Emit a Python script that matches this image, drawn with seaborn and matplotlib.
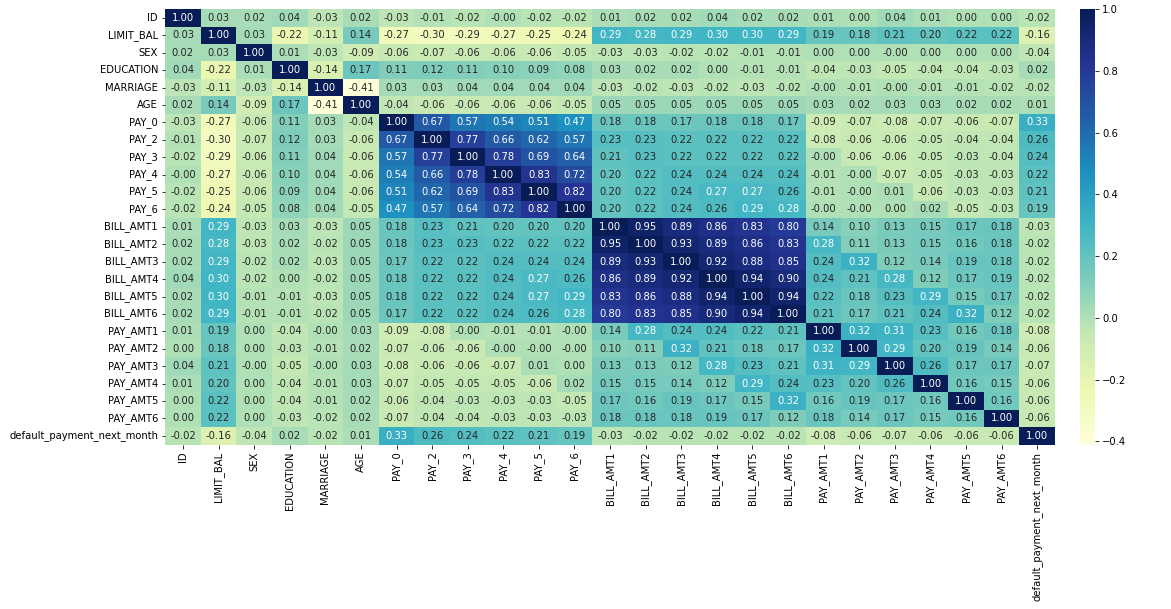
import numpy as np
import pandas as pd
import seaborn as sns
import matplotlib
matplotlib.use("Agg")
import matplotlib.pyplot as plt

labels = ["ID", "LIMIT_BAL", "SEX", "EDUCATION", "MARRIAGE", "AGE", "PAY_0", "PAY_2", "PAY_3",
          "PAY_4", "PAY_5", "PAY_6", "BILL_AMT1", "BILL_AMT2", "BILL_AMT3", "BILL_AMT4",
          "BILL_AMT5", "BILL_AMT6", "PAY_AMT1", "PAY_AMT2", "PAY_AMT3", "PAY_AMT4",
          "PAY_AMT5", "PAY_AMT6", "default_payment_next_month"]

rows = [
    [1.00, 0.03, 0.02, 0.04, -0.03, 0.02, -0.03, -0.01, -0.02, -0.00, -0.02, -0.02, 0.01, 0.02, 0.02, 0.04, 0.02, 0.02, 0.01, 0.00, 0.04, 0.01, 0.00, 0.00, -0.02],
    [0.03, 1.00, 0.03, -0.22, -0.11, 0.14, -0.27, -0.30, -0.29, -0.27, -0.25, -0.24, 0.29, 0.28, 0.29, 0.30, 0.30, 0.29, 0.19, 0.18, 0.21, 0.20, 0.22, 0.22, -0.16],
    [0.02, 0.03, 1.00, 0.01, -0.03, -0.09, -0.06, -0.07, -0.06, -0.06, -0.06, -0.05, -0.03, -0.03, -0.02, -0.02, -0.01, -0.01, 0.00, 0.00, -0.00, 0.00, 0.00, 0.00, -0.04],
    [0.04, -0.22, 0.01, 1.00, -0.14, 0.17, 0.11, 0.12, 0.11, 0.10, 0.09, 0.08, 0.03, 0.02, 0.02, 0.00, -0.01, -0.01, -0.04, -0.03, -0.05, -0.04, -0.04, -0.03, 0.02],
    [-0.03, -0.11, -0.03, -0.14, 1.00, -0.41, 0.03, 0.03, 0.04, 0.04, 0.04, 0.04, -0.03, -0.02, -0.03, -0.02, -0.03, -0.02, -0.00, -0.01, -0.00, -0.01, -0.01, -0.02, -0.02],
    [0.02, 0.14, -0.09, 0.17, -0.41, 1.00, -0.04, -0.06, -0.06, -0.06, -0.06, -0.05, 0.05, 0.05, 0.05, 0.05, 0.05, 0.05, 0.03, 0.02, 0.03, 0.03, 0.02, 0.02, 0.01],
    [-0.03, -0.27, -0.06, 0.11, 0.03, -0.04, 1.00, 0.67, 0.57, 0.54, 0.51, 0.47, 0.18, 0.18, 0.17, 0.18, 0.18, 0.17, -0.09, -0.07, -0.08, -0.07, -0.06, -0.07, 0.33],
    [-0.01, -0.30, -0.07, 0.12, 0.03, -0.06, 0.67, 1.00, 0.77, 0.66, 0.62, 0.57, 0.23, 0.23, 0.22, 0.22, 0.22, 0.22, -0.08, -0.06, -0.06, -0.05, -0.04, -0.04, 0.26],
    [-0.02, -0.29, -0.06, 0.11, 0.04, -0.06, 0.57, 0.77, 1.00, 0.78, 0.69, 0.64, 0.21, 0.23, 0.22, 0.22, 0.22, 0.22, -0.00, -0.06, -0.06, -0.05, -0.03, -0.04, 0.24],
    [-0.00, -0.27, -0.06, 0.10, 0.04, -0.06, 0.54, 0.66, 0.78, 1.00, 0.83, 0.72, 0.20, 0.22, 0.24, 0.24, 0.24, 0.24, -0.01, -0.00, -0.07, -0.05, -0.03, -0.03, 0.22],
    [-0.02, -0.25, -0.06, 0.09, 0.04, -0.06, 0.51, 0.62, 0.69, 0.83, 1.00, 0.82, 0.20, 0.22, 0.24, 0.27, 0.27, 0.26, -0.01, -0.00, 0.01, -0.06, -0.03, -0.03, 0.21],
    [-0.02, -0.24, -0.05, 0.08, 0.04, -0.05, 0.47, 0.57, 0.64, 0.72, 0.82, 1.00, 0.20, 0.22, 0.24, 0.26, 0.29, 0.28, -0.00, -0.00, 0.00, 0.02, -0.05, -0.03, 0.19],
    [0.01, 0.29, -0.03, 0.03, -0.03, 0.05, 0.18, 0.23, 0.21, 0.20, 0.20, 0.20, 1.00, 0.95, 0.89, 0.86, 0.83, 0.80, 0.14, 0.10, 0.13, 0.15, 0.17, 0.18, -0.03],
    [0.02, 0.28, -0.03, 0.02, -0.02, 0.05, 0.18, 0.23, 0.23, 0.22, 0.22, 0.22, 0.95, 1.00, 0.93, 0.89, 0.86, 0.83, 0.28, 0.11, 0.13, 0.15, 0.16, 0.18, -0.02],
    [0.02, 0.29, -0.02, 0.02, -0.03, 0.05, 0.17, 0.22, 0.22, 0.24, 0.24, 0.24, 0.89, 0.93, 1.00, 0.92, 0.88, 0.85, 0.24, 0.32, 0.12, 0.14, 0.19, 0.18, -0.02],
    [0.04, 0.30, -0.02, 0.00, -0.02, 0.05, 0.18, 0.22, 0.22, 0.24, 0.27, 0.26, 0.86, 0.89, 0.92, 1.00, 0.94, 0.90, 0.24, 0.21, 0.28, 0.12, 0.17, 0.19, -0.02],
    [0.02, 0.30, -0.01, -0.01, -0.03, 0.05, 0.18, 0.22, 0.22, 0.24, 0.27, 0.29, 0.83, 0.86, 0.88, 0.94, 1.00, 0.94, 0.22, 0.18, 0.23, 0.29, 0.15, 0.17, -0.02],
    [0.02, 0.29, -0.01, -0.01, -0.02, 0.05, 0.17, 0.22, 0.22, 0.24, 0.26, 0.28, 0.80, 0.83, 0.85, 0.90, 0.94, 1.00, 0.21, 0.17, 0.21, 0.24, 0.32, 0.12, -0.02],
    [0.01, 0.19, 0.00, -0.04, -0.00, 0.03, -0.09, -0.08, -0.00, -0.01, -0.01, -0.00, 0.14, 0.28, 0.24, 0.24, 0.22, 0.21, 1.00, 0.32, 0.31, 0.23, 0.16, 0.18, -0.08],
    [0.00, 0.18, 0.00, -0.03, -0.01, 0.02, -0.07, -0.06, -0.06, -0.00, -0.00, -0.00, 0.10, 0.11, 0.32, 0.21, 0.18, 0.17, 0.32, 1.00, 0.29, 0.20, 0.19, 0.14, -0.06],
    [0.04, 0.21, -0.00, -0.05, -0.00, 0.03, -0.08, -0.06, -0.06, -0.07, 0.01, 0.00, 0.13, 0.13, 0.12, 0.28, 0.23, 0.21, 0.31, 0.29, 1.00, 0.26, 0.17, 0.17, -0.07],
    [0.01, 0.20, 0.00, -0.04, -0.01, 0.03, -0.07, -0.05, -0.05, -0.05, -0.06, 0.02, 0.15, 0.15, 0.14, 0.12, 0.29, 0.24, 0.23, 0.20, 0.26, 1.00, 0.16, 0.15, -0.06],
    [0.00, 0.22, 0.00, -0.04, -0.01, 0.02, -0.06, -0.04, -0.03, -0.03, -0.03, -0.05, 0.17, 0.16, 0.19, 0.17, 0.15, 0.32, 0.16, 0.19, 0.17, 0.16, 1.00, 0.16, -0.06],
    [0.00, 0.22, 0.00, -0.03, -0.02, 0.02, -0.07, -0.04, -0.04, -0.03, -0.03, -0.03, 0.18, 0.18, 0.18, 0.19, 0.17, 0.12, 0.18, 0.14, 0.17, 0.15, 0.16, 1.00, -0.06],
    [-0.02, -0.16, -0.04, 0.02, -0.02, 0.01, 0.33, 0.26, 0.24, 0.22, 0.21, 0.19, -0.03, -0.02, -0.02, -0.02, -0.02, -0.02, -0.08, -0.06, -0.07, -0.06, -0.06, -0.06, 1.00],
]

corr = pd.DataFrame(rows, index=labels, columns=labels)

fig = plt.figure(figsize=(1171 / 72, 609 / 72), dpi=72)
ax = fig.add_axes([0.141, 0.27, 0.76, 0.715])
cax = fig.add_axes([0.922, 0.27, 0.013, 0.715])
sns.heatmap(corr, annot=True, fmt=".2f", cmap="YlGnBu", ax=ax, cbar_ax=cax,
            annot_kws={"size": 10})
ax.tick_params(labelsize=10)
cax.tick_params(labelsize=10)

fig.savefig("out.png", dpi=72)
